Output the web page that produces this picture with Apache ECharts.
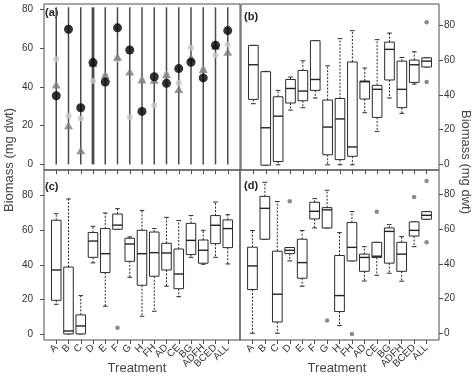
<!DOCTYPE html>
<html>
<head>
<meta charset="utf-8">
<script src="https://cdn.jsdelivr.net/npm/echarts@6/dist/echarts.min.js"></script>
<style>
html,body{margin:0;padding:0;background:#fff;}
#chart{width:474px;height:377px;}
</style>
</head>
<body>
<div id="chart"></div>
<script>
// ---------- DATA ----------
const categories = ['A','B','C','D','E','F','G','H','FH','AD','CE','BG','ADFH','BCED','ALL'];
const yTickValues = [0, 20, 40, 60, 80];

// Panel (a): vertical range lines and three point series
const aLine = [0, 81];
const aBlack    = [35.4, 69.7, 29.2, 52.5, 42.5, 70.4, 59.0, 27.3, 45.2, 41.8, 49.4, 52.6, 44.6, 61.4, 69.0];
const aTriangle = [41.1, 20.1, 7.2, 52.0, 46.1, 55.4, 47.8, 43.6, 43.5, 46.3, 38.7, 55.1, 49.0, 61.0, 58.0];
const aLight    = [54.2, 25.1, 23.6, 43.0, 46.0, 54.2, 24.3, 43.6, 30.5, 46.6, 42.0, 60.2, 49.0, 56.3, 61.8];

// Boxes: [min, q1, median, q3, max]
const bBoxes = [
  [34.9, 37.4, 57.4, 68.6, 68.6],
  [-0.6, -0.6, 21.0, 53.4, 53.6],
  [-0.4, 1.5, 27.7, 38.9, 42.6],
  [31.2, 35.3, 43.7, 48.9, 50.3],
  [32.6, 36.6, 42.2, 54.1, 59.7],
  [38.2, 42.6, 48.9, 71.3, 71.3],
  [-0.4, 5.4, 21.4, 37.0, 56.8],
  [-0.4, 2.6, 26.1, 37.9, 72.5],
  [-0.4, 4.5, 9.9, 59.0, 77.1],
  [29.7, 37.6, 47.6, 48.0, 55.5],
  [18.9, 27.0, 43.2, 45.5, 71.9],
  [38.2, 48.6, 66.3, 70.5, 75.7],
  [29.3, 32.6, 43.2, 59.5, 61.6],
  [46.2, 47.2, 57.4, 60.1, 64.9],
  [56.1, 56.1, 59.5, 61.4, 61.4]
];
const bOutliers = [['ALL', 81.9], ['ALL', 47.4]];

const cBoxes = [
  [17.3, 19.6, 37.1, 65.8, 69.6],
  [0.2, 0.2, 1.9, 38.8, 78.1],
  [0.2, 0.2, 4.8, 11.2, 22.3],
  [41.2, 44.4, 53.8, 58.7, 62.3],
  [16.2, 35.6, 46.5, 61.0, 70.0],
  [60.6, 60.6, 63.0, 69.4, 72.5],
  [32.9, 42.1, 52.1, 55.4, 56.2],
  [10.4, 28.3, 46.5, 60.0, 71.5],
  [13.3, 33.5, 47.1, 59.0, 61.0],
  [27.7, 37.1, 46.9, 52.5, 67.5],
  [21.7, 26.3, 34.8, 49.2, 65.6],
  [44.4, 46.0, 54.2, 64.0, 68.5],
  [40.4, 41.0, 48.5, 54.4, 60.0],
  [44.4, 52.3, 62.9, 68.5, 76.3],
  [40.6, 50.0, 61.0, 66.0, 69.0]
];
const cOutliers = [['F', 3.7]];

const dBoxes = [
  [0.0, 25.2, 38.8, 49.6, 59.2],
  [54.2, 54.2, 72.0, 78.9, 87.0],
  [0.0, 6.5, 22.5, 47.3, 75.9],
  [41.7, 45.9, 47.8, 49.4, 49.4],
  [27.1, 31.7, 40.7, 54.2, 59.2],
  [60.7, 65.9, 70.3, 75.5, 77.6],
  [60.7, 60.7, 71.1, 72.4, 82.4],
  [4.4, 12.5, 21.7, 44.8, 58.0],
  [41.7, 41.7, 49.5, 63.8, 70.1],
  [30.1, 35.7, 43.7, 45.6, 49.9],
  [33.4, 43.7, 44.4, 52.4, 52.4],
  [34.6, 40.4, 58.7, 60.7, 62.6],
  [30.0, 35.7, 45.6, 52.4, 55.7],
  [49.9, 56.0, 59.3, 64.2, 64.2],
  [65.7, 65.7, 68.0, 70.1, 70.1]
];
const dOutliers = [['D', 76.1], ['G', 7.3], ['FH', -0.5], ['CE', 70.1], ['BCED', 78.5], ['ALL', 87.7], ['ALL', 52.4]];

const panelTags = ['(a)', '(b)', '(c)', '(d)'];
const yTitle = 'Biomass (mg dwt)';
const xTitle = 'Treatment';

// ---------- CHART ----------
const FONT = '"Liberation Sans", Arial, Helvetica, sans-serif';
const INK = '#333';
const xPos = name => categories.indexOf(name) + 1;
const xTickValues = categories.map((c, i) => i + 1);
// padded with empty end labels so ECharts' min/max-label overlap check never drops a real one
const xLabelValues = [0].concat(xTickValues, [categories.length + 1]);

const grids = [
  {left: 44, top: 4, width: 196, height: 166},
  {left: 241, top: 4, width: 198, height: 166},
  {left: 44, top: 170, width: 196, height: 170},
  {left: 240, top: 170, width: 199, height: 170}
];
const yRanges = [[-2.9, 82.7], [-3.4, 92.5], [-3.3, 94.8], [-3.9, 94.1]];
const yPositions = ['left', 'right', 'left', 'right'];

const chart = echarts.init(document.getElementById('chart'), null, {renderer: 'canvas'});

function boxRender(params, api) {
  const x = api.value(0);
  const lo = api.coord([x, api.value(1)]);
  const q1 = api.coord([x, api.value(2)]);
  const md = api.coord([x, api.value(3)]);
  const q3 = api.coord([x, api.value(4)]);
  const hi = api.coord([x, api.value(5)]);
  const w = api.size([0.78, 0])[0];
  const cw = api.size([0.38, 0])[0];
  const cx = q1[0];
  const solid = {stroke: '#2a2a2a', lineWidth: 1, fill: null};
  const dashed = {stroke: '#2a2a2a', lineWidth: 1, lineDash: [2, 1.5]};
  return {
    type: 'group',
    children: [
      {type: 'line', shape: {x1: cx, y1: q3[1], x2: cx, y2: hi[1]}, style: dashed},
      {type: 'line', shape: {x1: cx, y1: q1[1], x2: cx, y2: lo[1]}, style: dashed},
      {type: 'line', shape: {x1: cx - cw / 2, y1: hi[1], x2: cx + cw / 2, y2: hi[1]}, style: solid},
      {type: 'line', shape: {x1: cx - cw / 2, y1: lo[1], x2: cx + cw / 2, y2: lo[1]}, style: solid},
      {type: 'rect', shape: {x: cx - w / 2, y: q3[1], width: w, height: q1[1] - q3[1]}, style: {stroke: '#2a2a2a', lineWidth: 1, fill: '#fff'}},
      {type: 'line', shape: {x1: cx - w / 2, y1: md[1], x2: cx + w / 2, y2: md[1]}, style: {stroke: '#222', lineWidth: 1.4}}
    ]
  };
}

function lineRender(params, api) {
  const x = api.value(0);
  const p0 = api.coord([x, api.value(1)]);
  const p1 = api.coord([x, api.value(2)]);
  return {
    type: 'line',
    shape: {x1: p0[0], y1: p0[1], x2: p1[0], y2: p1[1]},
    style: {stroke: '#4a4a4a', lineWidth: params.dataIndex === 3 ? 2.8 : 1.5}
  };
}

const boxSeries = (boxes, idx) => ({
  type: 'custom', xAxisIndex: idx, yAxisIndex: idx,
  renderItem: boxRender,
  encode: {x: 0, y: [1, 2, 3, 4, 5]},
  data: boxes.map((b, i) => [i + 1].concat(b)),
  z: 3
});
const outlierSeries = (outs, idx) => ({
  type: 'scatter', xAxisIndex: idx, yAxisIndex: idx,
  symbol: 'circle', symbolSize: 4.5,
  itemStyle: {color: '#6e6e6e'},
  data: outs.map(o => [xPos(o[0]), o[1]]),
  z: 4
});

const option = {
  backgroundColor: '#fff',
  animation: false,
  grid: grids.map(g => Object.assign({show: true, borderColor: '#4d4d4d', borderWidth: 1, backgroundColor: 'transparent'}, g)),
  xAxis: grids.map((g, i) => ({
    gridIndex: i, type: 'value', min: 0, max: 16,
    splitLine: {show: false},
    axisLine: {show: false, onZero: false},
    axisTick: {show: true, length: 4, customValues: xTickValues, lineStyle: {color: '#4d4d4d'}},
    axisLabel: {
      show: i >= 2, customValues: xLabelValues, rotate: 45, margin: 6,
      hideOverlap: false,
      formatter: v => categories[Math.round(v) - 1] || '',
      fontFamily: FONT, fontSize: 10, color: INK
    }
  })),
  yAxis: grids.map((g, i) => ({
    gridIndex: i, type: 'value', min: yRanges[i][0], max: yRanges[i][1],
    position: yPositions[i],
    splitLine: {show: false},
    axisLine: {show: false, onZero: false},
    axisTick: {show: true, length: 4, customValues: yTickValues, lineStyle: {color: '#4d4d4d'}},
    axisLabel: {
      customValues: yTickValues, margin: yPositions[i] === 'left' ? 11 : 5,
      showMinLabel: true, showMaxLabel: true,
      fontFamily: FONT, fontSize: 10, color: INK
    }
  })),
  series: [
    {
      type: 'custom', xAxisIndex: 0, yAxisIndex: 0,
      renderItem: lineRender,
      encode: {x: 0, y: [1, 2]},
      data: categories.map((c, i) => [i + 1, aLine[0], aLine[1]]),
      z: 2
    },
    {
      type: 'scatter', xAxisIndex: 0, yAxisIndex: 0, symbol: 'circle', symbolSize: 6,
      itemStyle: {color: '#c8c8c8'},
      data: aLight.map((v, i) => [i + 1, v]), z: 3
    },
    {
      type: 'scatter', xAxisIndex: 0, yAxisIndex: 0, symbol: 'triangle', symbolSize: [9, 7.5],
      itemStyle: {color: '#7a7a7a'},
      data: aTriangle.map((v, i) => [i + 1, v]), z: 4
    },
    {
      type: 'scatter', xAxisIndex: 0, yAxisIndex: 0, symbol: 'circle', symbolSize: 9,
      itemStyle: {color: '#000'},
      data: aBlack.map((v, i) => [i + 1, v]), z: 5
    },
    boxSeries(bBoxes, 1), outlierSeries(bOutliers, 1),
    boxSeries(cBoxes, 2), outlierSeries(cOutliers, 2),
    boxSeries(dBoxes, 3), outlierSeries(dOutliers, 3)
  ],
  graphic: [
    {type: 'text', x: 45, y: 7, style: {text: panelTags[0], font: 'bold 11px ' + FONT, fill: '#222'}},
    {type: 'text', x: 244, y: 11, style: {text: panelTags[1], font: 'bold 11px ' + FONT, fill: '#222'}},
    {type: 'text', x: 45, y: 181, style: {text: panelTags[2], font: 'bold 11px ' + FONT, fill: '#222'}},
    {type: 'text', x: 244, y: 180, style: {text: panelTags[3], font: 'bold 11px ' + FONT, fill: '#222'}},
    {type: 'text', x: 137, y: 368, style: {text: xTitle, font: '13px ' + FONT, fill: '#444', textAlign: 'center', textVerticalAlign: 'middle'}},
    {type: 'text', x: 337, y: 368, style: {text: xTitle, font: '13px ' + FONT, fill: '#444', textAlign: 'center', textVerticalAlign: 'middle'}},
    {type: 'text', x: 9, y: 160, rotation: Math.PI / 2, style: {text: yTitle, font: '13px ' + FONT, fill: '#444', textAlign: 'center', textVerticalAlign: 'middle'}},
    {type: 'text', x: 466, y: 162, rotation: -Math.PI / 2, style: {text: yTitle, font: '13px ' + FONT, fill: '#444', textAlign: 'center', textVerticalAlign: 'middle'}}
  ]
};
chart.setOption(option);
</script>
</body>
</html>
